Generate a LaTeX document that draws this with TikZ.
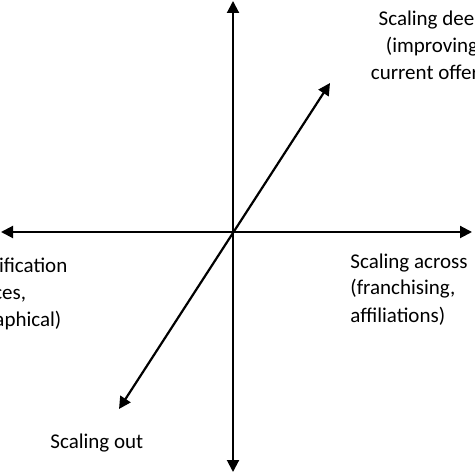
\documentclass[tikz,border=0pt]{standalone}
\usepackage{fontspec}
\setmainfont{Carlito}
\usepackage{tikz}
\usetikzlibrary{arrows.meta, positioning}

\tikzset{
  axis/.style={line width=1pt, {Triangle[length=6pt,width=6pt]}-{Triangle[length=6pt,width=6pt]}},
  label/.style={inner sep=0pt, font=\fontsize{10.5pt}{13.5pt}\selectfont}
}

\begin{document}
\begin{tikzpicture}[x=0.5pt, y=-0.5pt]
  \useasboundingbox (0,0) rectangle (474,474);
  % axes
  \coordinate (top) at (233,1);
  \coordinate (bottom) at (233,472);
  \coordinate (left) at (1,232);
  \coordinate (right) at (472,232);
  \coordinate (deeptip) at (330,83);
  \coordinate (outtip) at (119,409);
  \draw[axis] (bottom) -- (top);
  \draw[axis] (left) -- (right);
  \draw[axis, line width=1.1pt] (outtip) -- (deeptip);
  % labels (anchored on the baseline of the last line)
  \node[label, align=center, anchor=base] (deep) at (432,80) {Scaling deep\\(improving\\current offers)};
  \node[label, align=left, anchor=base west] (across) at (350,322) {Scaling across\\(franchising,\\affiliations)};
  \node[label, align=left, anchor=base west] (diversif) at (-54,327) {Diversification\\(services,\\geographical)};
  \node[label, anchor=base west] (out) at (50,448) {Scaling out};
\end{tikzpicture}
\end{document}
